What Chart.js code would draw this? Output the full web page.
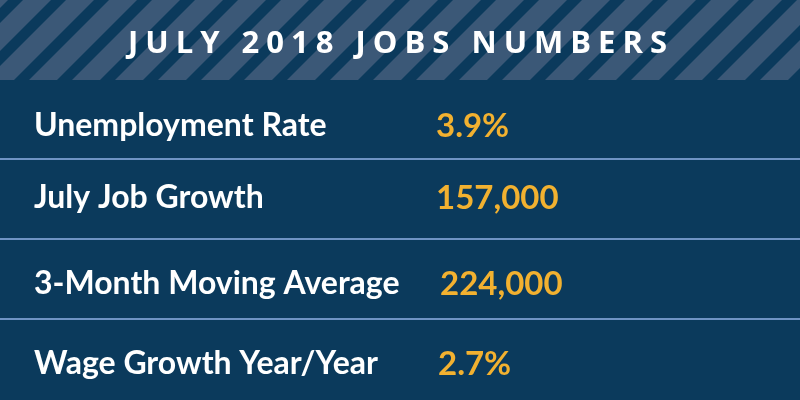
<!DOCTYPE html>
<html><head><meta charset="utf-8">
<script src="https://cdn.jsdelivr.net/npm/chart.js@4"></script>
<style>html,body{margin:0;padding:0;background:#0b3a5c}#w{width:800px;height:400px}</style>
</head><body><div id="w"><canvas id="c" width="800" height="400"></canvas></div>
<script>
const title = "JULY 2018 JOBS NUMBERS";
const categories = ["Unemployment Rate","July Job Growth","3-Month Moving Average","Wage Growth Year/Year"];
const values = [3.9, 157000, 224000, 2.7];
const valueSuffix = ["%","","","%"];
const valueXOffset = [0,0,4,2];
const rowYOffset = [6,-2,4,4];

const infographic = {
  id:'infographic',
  beforeDraw(chart){
    const ctx=chart.ctx, W=chart.width;
    ctx.save();
    ctx.fillStyle='#0b3a5c'; ctx.fillRect(0,0,W,chart.height);
    ctx.save();
    ctx.beginPath(); ctx.rect(0,0,W,80); ctx.clip();
    ctx.fillStyle='#3b5877';
    for(let x=-100;x<W+100;x+=43){
      ctx.beginPath();
      ctx.moveTo(x+80,0); ctx.lineTo(x+108,0); ctx.lineTo(x+28,80); ctx.lineTo(x,80); ctx.closePath(); ctx.fill();
    }
    ctx.restore();
    ctx.fillStyle='#ffffff';
    ctx.font='bold 31px "Open Sans", Lato, sans-serif';
    ctx.textAlign='center'; ctx.textBaseline='middle';
    if('letterSpacing' in ctx) ctx.letterSpacing='7px';
    ctx.fillText(title, W/2+1, 44);
    if('letterSpacing' in ctx) ctx.letterSpacing='0px';
    ctx.restore();
  },
  afterDatasetsDraw(chart){
    const ctx=chart.ctx, y=chart.scales.y;
    ctx.save();
    categories.forEach((c,i)=>{
      const cy=y.getPixelForValue(i);
      if(i<categories.length-1){
        ctx.fillStyle='#6f93c4';
        ctx.fillRect(0,cy+38,800,2);
      }
      const ty=cy+rowYOffset[i];
      ctx.textBaseline='middle'; ctx.textAlign='left';
      ctx.fillStyle='#ffffff';
      ctx.font='bold 32px Lato, "Open Sans", sans-serif';
      ctx.fillText(c,34,ty);
      ctx.fillStyle='#f2b130';
      ctx.font='bold 33px Lato, "Open Sans", sans-serif';
      ctx.fillText(values[i].toLocaleString('en-US')+valueSuffix[i],436+valueXOffset[i],ty);
    });
    ctx.restore();
  }
};

new Chart(document.getElementById('c'),{
  type:'bar',
  data:{labels:categories,datasets:[{data:values.map(()=>0),backgroundColor:'rgba(0,0,0,0)'}]},
  options:{
    responsive:false,animation:false,indexAxis:'y',
    layout:{padding:{top:80,left:0,right:0,bottom:0}},
    plugins:{legend:{display:false},tooltip:{enabled:false}},
    scales:{
      x:{display:false,min:0,max:1},
      y:{display:false,offset:true,grid:{display:false}}
    }
  },
  plugins:[infographic]
});
</script></body></html>
